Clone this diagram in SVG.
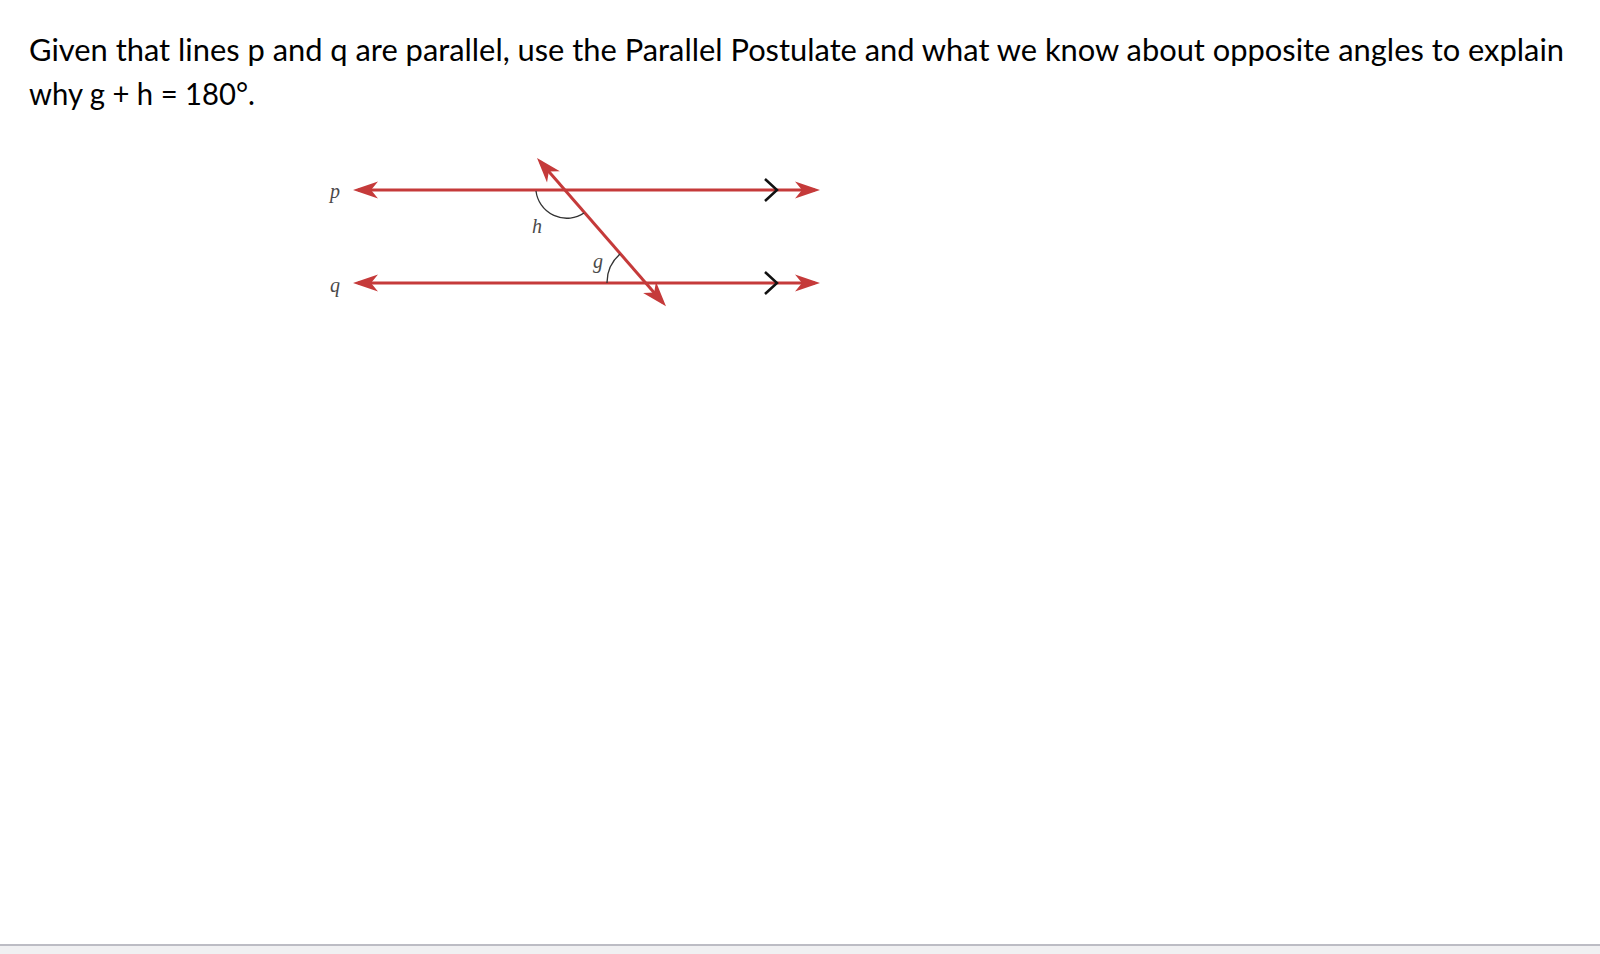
<svg xmlns="http://www.w3.org/2000/svg" width="1600" height="954" viewBox="0 0 1600 954">
<style>
.q{font-family:Lato,"Open Sans","Liberation Sans",sans-serif;font-size:30px;fill:#000}
.ln{stroke:#c53a3a;stroke-width:3;fill:none}
.lbl{font-family:"Liberation Serif","DejaVu Serif",serif;font-style:italic;font-size:20px;fill:#4a4a4a}
.arc{stroke:#333;stroke-width:1.3;fill:none}
.chev{stroke:#111;stroke-width:2.5;fill:none}
</style>
<defs>
<marker id="ah" markerUnits="userSpaceOnUse" markerWidth="30" markerHeight="20" viewBox="-22 -10 30 20" refX="0" refY="0" orient="auto-start-reverse">
<path d="M5,0 L-20,-8.5 L-13,0 L-20,8.5 Z" fill="#c53a3a"/>
</marker>
</defs>
<rect width="1600" height="954" fill="#fff"/>
<g id="question">
<text class="q" x="29" y="61" textLength="1535" lengthAdjust="spacingAndGlyphs">Given that lines p and q are parallel, use the Parallel Postulate and what we know about opposite angles to explain</text>
<text class="q" x="29" y="105" textLength="226" lengthAdjust="spacingAndGlyphs">why g + h = 180°.</text>
</g>
<g id="connectors">
<line id="line-p" class="ln" x1="358" y1="190" x2="815" y2="190" marker-start="url(#ah)" marker-end="url(#ah)"/>
<line id="line-q" class="ln" x1="358" y1="283" x2="815" y2="283" marker-start="url(#ah)" marker-end="url(#ah)"/>
<line id="transversal" class="ln" x1="540.3" y1="161.8" x2="662.7" y2="302.4" marker-start="url(#ah)" marker-end="url(#ah)"/>
<path class="chev" d="M765,179 L777,190 L765,201"/>
<path class="chev" d="M765,272 L777,283 L765,294"/>
</g>
<g id="angle-h">
<path class="arc" d="M536,191 A31,31 0 0 0 584,213"/>
<text class="lbl" x="532" y="233">h</text>
</g>
<g id="angle-g">
<path class="arc" d="M607,283 A38,38 0 0 1 620,254"/>
<text class="lbl" x="593" y="268">g</text>
</g>
<g id="label-p"><text class="lbl" x="330" y="198">p</text></g>
<g id="label-q"><text class="lbl" x="330" y="292">q</text></g>
<g id="footer">
<rect x="0" y="946" width="1600" height="8" fill="#f0f0f2"/>
<line x1="0" y1="945" x2="1600" y2="945" stroke="#bcbcc4" stroke-width="2"/>
</g>
</svg>
